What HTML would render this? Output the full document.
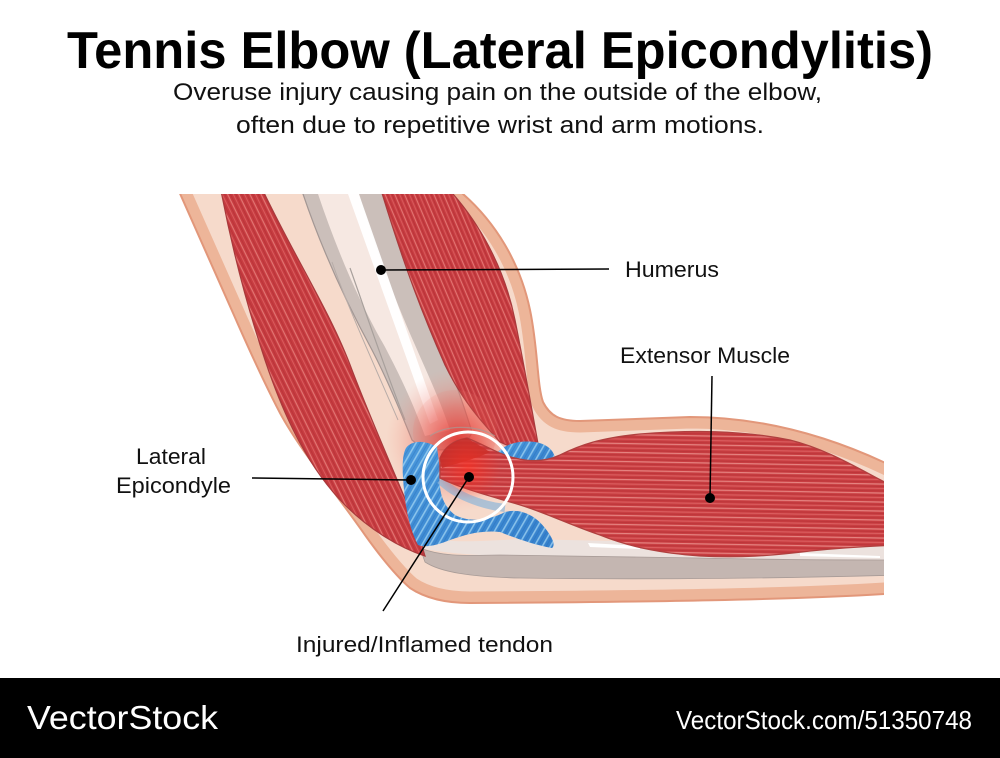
<!DOCTYPE html>
<html><head><meta charset="utf-8"><style>
html,body{margin:0;padding:0;background:#fff;}
svg{display:block;}
</style></head><body>
<svg width="1000" height="758" viewBox="0 0 1000 758" xmlns="http://www.w3.org/2000/svg">
<defs>
  <clipPath id="cr"><rect x="0" y="194" width="884" height="500"/></clipPath>
  <clipPath id="skinClip"><path d="M174,180 L447,180 L463,194 C495,222 520,262 530,310 C538,348 537,385 543,402 C550,416 560,421 580,421 L690,417 C760,417 830,435 900,470 L900,593 C800,600 640,602 470,603 C445,603 425,598 410,588 C395,575 380,556 365,535 C335,492 300,450 280,413 C260,375 245,340 233,313 L174,180 Z"/></clipPath>
  <pattern id="fibA" patternUnits="userSpaceOnUse" width="50" height="10" patternTransform="rotate(64)">
    <rect y="0" width="50" height="1.2" fill="#ee8d88" opacity=".7"/>
    <rect y="2.8" width="50" height="0.8" fill="#a32429" opacity=".45"/>
    <rect y="5" width="50" height="1" fill="#e46f6e" opacity=".6"/>
    <rect y="7.6" width="50" height="1" fill="#a32429" opacity=".35"/>
  </pattern>
  <pattern id="fibB" patternUnits="userSpaceOnUse" width="50" height="9" patternTransform="rotate(67)">
    <rect y="0" width="50" height="1.1" fill="#ee8d88" opacity=".7"/>
    <rect y="2.6" width="50" height="0.8" fill="#a32429" opacity=".45"/>
    <rect y="4.6" width="50" height="1" fill="#e46f6e" opacity=".6"/>
    <rect y="7" width="50" height="0.9" fill="#a32429" opacity=".35"/>
  </pattern>
  <pattern id="fibC" patternUnits="userSpaceOnUse" width="60" height="9" patternTransform="rotate(1)">
    <rect y="0" width="60" height="1.2" fill="#ef9a95" opacity=".75"/>
    <rect y="2.6" width="60" height="0.8" fill="#a32429" opacity=".4"/>
    <rect y="4.6" width="60" height="1" fill="#e67573" opacity=".65"/>
    <rect y="7" width="60" height="0.9" fill="#a32429" opacity=".35"/>
  </pattern>
  <pattern id="blueS" patternUnits="userSpaceOnUse" width="30" height="7" patternTransform="rotate(-60)">
    <rect y="0" width="30" height="1.6" fill="#a9dbf6" opacity=".7"/>
    <rect y="3.8" width="30" height="0.8" fill="#1d5fa8" opacity=".35"/>
  </pattern>
  <linearGradient id="blueG" x1="0" y1="0" x2="1" y2="1">
    <stop offset="0" stop-color="#4a98dc"/>
    <stop offset="1" stop-color="#3580cc"/>
  </linearGradient>
  <radialGradient id="glow" gradientUnits="userSpaceOnUse" cx="458" cy="440" r="72">
    <stop offset="0" stop-color="#e3342f" stop-opacity=".85"/>
    <stop offset=".45" stop-color="#ea5a50" stop-opacity=".5"/>
    <stop offset="1" stop-color="#f4a090" stop-opacity="0"/>
  </radialGradient>
  <radialGradient id="glow2" gradientUnits="userSpaceOnUse" cx="468" cy="468" r="32">
    <stop offset="0" stop-color="#ff3020" stop-opacity=".65"/>
    <stop offset="1" stop-color="#ff3020" stop-opacity="0"/>
  </radialGradient>
</defs>

<rect width="1000" height="758" fill="#fff"/>

<!-- Title -->
<text x="67" y="68" font-family="Liberation Sans, Arial, sans-serif" font-weight="bold" font-size="52" textLength="866" lengthAdjust="spacingAndGlyphs" fill="#000">Tennis Elbow (Lateral Epicondylitis)</text>
<text x="173" y="100" font-family="Liberation Sans, Arial, sans-serif" font-size="24" textLength="649" lengthAdjust="spacingAndGlyphs" fill="#111">Overuse injury causing pain on the outside of the elbow,</text>
<text x="236" y="133" font-family="Liberation Sans, Arial, sans-serif" font-size="24" textLength="528" lengthAdjust="spacingAndGlyphs" fill="#111">often due to repetitive wrist and arm motions.</text>

<g clip-path="url(#cr)">
  <!-- skin -->
  <path d="M174,180 L447,180 L463,194 C495,222 520,262 530,310 C538,348 537,385 543,402 C550,416 560,421 580,421 L690,417 C760,417 830,435 900,470 L900,593 C800,600 640,602 470,603 C445,603 425,598 410,588 C395,575 380,556 365,535 C335,492 300,450 280,413 C260,375 245,340 233,313 L174,180 Z" fill="#f6dacb"/>
  <path d="M174,180 L447,180 L463,194 C495,222 520,262 530,310 C538,348 537,385 543,402 C550,416 560,421 580,421 L690,417 C760,417 830,435 900,470 L900,593 C800,600 640,602 470,603 C445,603 425,598 410,588 C395,575 380,556 365,535 C335,492 300,450 280,413 C260,375 245,340 233,313 L174,180 Z" fill="none" stroke="#edb599" stroke-width="23" clip-path="url(#skinClip)"/>
  <path d="M174,180 L447,180 L463,194 C495,222 520,262 530,310 C538,348 537,385 543,402 C550,416 560,421 580,421 L690,417 C760,417 830,435 900,470 L900,593 C800,600 640,602 470,603 C445,603 425,598 410,588 C395,575 380,556 365,535 C335,492 300,450 280,413 C260,375 245,340 233,313 L174,180 Z" fill="none" stroke="#e2977a" stroke-width="2"/>

  <!-- humerus -->
  <path d="M298,180 L378,180 L383,194 C400,240 425,300 440,340 C452,372 462,400 472,432 C465,452 430,456 412,440 C400,410 385,375 372,350 C345,300 322,250 303,194 Z" fill="#cbbfba" stroke="#a39794" stroke-width="1.2"/>
  <path d="M313,180 L355,180 C372,240 395,300 415,345 C428,375 440,400 450,430 L425,436 C412,400 398,372 385,347 C358,300 337,250 318,194 Z" fill="#f6e8e2"/>
  <path d="M343,180 L354,180 L438,420 L430,424 Z" fill="#ffffff" opacity=".95"/>
  <path d="M350,268 C365,310 385,370 405,420" fill="none" stroke="#a8a09c" stroke-width="1.2"/>
  <path d="M332,262 C347,305 372,360 398,420" fill="none" stroke="#b7aca8" stroke-width="1"/>

  <!-- forearm bone -->
  <path d="M416,536 C450,544 480,541 520,539 L900,547 L900,562 L520,556 C470,556 440,552 420,548 Z" fill="#ece2de"/>
  <path d="M588,543 L640,546 L640,549 L590,547 Z M800,553 L880,556 L880,558 L800,556 Z" fill="#fff"/>
  <path d="M420,548 C440,556 460,556 500,555 L700,558 C780,560 840,560 900,560 L900,575 C800,578 650,580 520,578 C470,577 440,572 425,562 Z" fill="#c4b6b1" stroke="#a89b97" stroke-width="0.8"/>

  <!-- glow -->
  <circle cx="458" cy="440" r="72" fill="url(#glow)"/>

  <!-- left upper muscle -->
  <path d="M219,180 L258,180 C290,250 330,310 352,370 C375,430 400,485 418,530 C421,542 423,550 425,556 C400,548 370,530 345,505 C310,470 285,420 265,360 C245,300 230,240 219,180 Z" fill="#c73c41"/>
  <path d="M219,180 L258,180 C290,250 330,310 352,370 C375,430 400,485 418,530 C421,542 423,550 425,556 C400,548 370,530 345,505 C310,470 285,420 265,360 C245,300 230,240 219,180 Z" fill="url(#fibA)" stroke="#a83a3c" stroke-width="1.2"/>

  <!-- right upper muscle -->
  <path d="M378,180 L440,180 C480,220 505,270 515,320 C525,370 532,410 540,455 C525,452 510,447 500,442 C480,420 462,400 445,365 C425,320 405,270 378,180 Z" fill="#c73c41"/>
  <path d="M378,180 L440,180 C480,220 505,270 515,320 C525,370 532,410 540,455 C525,452 510,447 500,442 C480,420 462,400 445,365 C425,320 405,270 378,180 Z" fill="url(#fibB)" stroke="#a83a3c" stroke-width="1.2"/>

  <!-- glow overlay on joint -->
  <circle cx="455" cy="432" r="42" fill="url(#glow)" opacity=".45"/>

  <!-- blue ligaments -->
  <path d="M406,448 C412,440 425,440 437,447 L440,470 C438,490 442,505 455,515 C470,523 490,520 505,512 C520,508 535,515 545,528 C552,537 556,545 552,548 C535,545 515,538 500,532 C480,530 465,535 450,540 C438,545 425,548 418,545 C410,530 406,510 404,490 C402,470 402,455 406,448 Z" fill="url(#blueG)"/>
  <path d="M406,448 C412,440 425,440 437,447 L440,470 C438,490 442,505 455,515 C470,523 490,520 505,512 C520,508 535,515 545,528 C552,537 556,545 552,548 C535,545 515,538 500,532 C480,530 465,535 450,540 C438,545 425,548 418,545 C410,530 406,510 404,490 C402,470 402,455 406,448 Z" fill="url(#blueS)"/>
  <path d="M498,452 C505,444 520,440 535,442 C548,444 556,452 555,462 C545,464 530,463 515,460 C505,458 500,456 498,452 Z" fill="url(#blueG)"/>
  <path d="M498,452 C505,444 520,440 535,442 C548,444 556,452 555,462 C545,464 530,463 515,460 C505,458 500,456 498,452 Z" fill="url(#blueS)"/>
  <path d="M440,480 C455,495 480,505 505,508" fill="none" stroke="#8fb6d8" stroke-width="8" opacity=".7"/>

  <!-- extensor muscle + tendon -->
  <path d="M440,458 C445,446 455,440 467,438 C485,445 500,455 515,458 C530,462 545,462 560,455 C580,445 600,438 640,434 C690,430 740,430 790,440 C830,450 860,470 900,490 L900,545 C870,546 840,548 810,551 C770,556 740,558 700,556 C660,553 630,547 600,535 C570,525 540,510 510,502 C490,496 460,488 440,478 Z" fill="#c93e42"/>
  <path d="M440,458 C445,446 455,440 467,438 C485,445 500,455 515,458 C530,462 545,462 560,455 C580,445 600,438 640,434 C690,430 740,430 790,440 C830,450 860,470 900,490 L900,545 C870,546 840,548 810,551 C770,556 740,558 700,556 C660,553 630,547 600,535 C570,525 540,510 510,502 C490,496 460,488 440,478 Z" fill="url(#fibC)" stroke="#b0403f" stroke-width="1.3"/>
  <path d="M440,458 C445,446 455,440 467,438 L490,452 C478,458 462,462 442,468 Z" fill="#c2302c" opacity=".9"/>
  <circle cx="468" cy="468" r="34" fill="url(#glow2)"/>

  <!-- joint outline -->
  <path d="M430,436 C445,425 475,424 495,436" fill="none" stroke="#a89a96" stroke-width="1.2" opacity=".7"/>
</g>

<!-- highlight circle -->
<circle cx="468" cy="477" r="45" fill="none" stroke="#fff" stroke-width="3"/>

<!-- leader lines -->
<g stroke="#000" stroke-width="1.5" fill="none">
  <line x1="381" y1="270" x2="609" y2="269"/>
  <line x1="712" y1="376" x2="710" y2="498"/>
  <line x1="252" y1="478" x2="411" y2="480"/>
  <line x1="469" y1="477" x2="383" y2="611"/>
</g>
<g fill="#000">
  <circle cx="381" cy="270" r="5"/>
  <circle cx="710" cy="498" r="5"/>
  <circle cx="411" cy="480" r="5"/>
  <circle cx="469" cy="477" r="5"/>
</g>

<!-- labels -->
<g font-family="Liberation Sans, Arial, sans-serif" font-size="22.5" fill="#111">
  <text x="625" y="277" textLength="94" lengthAdjust="spacingAndGlyphs">Humerus</text>
  <text x="620" y="363" textLength="170" lengthAdjust="spacingAndGlyphs">Extensor Muscle</text>
  <text x="136" y="464" textLength="70" lengthAdjust="spacingAndGlyphs">Lateral</text>
  <text x="116" y="493" textLength="115" lengthAdjust="spacingAndGlyphs">Epicondyle</text>
  <text x="296" y="652" textLength="257" lengthAdjust="spacingAndGlyphs">Injured/Inflamed tendon</text>
</g>

<!-- footer -->
<rect x="0" y="678" width="1000" height="80" fill="#000"/>
<text x="27" y="729" font-family="Liberation Sans, Arial, sans-serif" font-size="33" fill="#fff" textLength="191" lengthAdjust="spacingAndGlyphs">VectorStock</text>
<text x="676" y="729" font-family="Liberation Sans, Arial, sans-serif" font-size="26" fill="#fff" textLength="296" lengthAdjust="spacingAndGlyphs">VectorStock.com/51350748</text>
</svg>
</body></html>
